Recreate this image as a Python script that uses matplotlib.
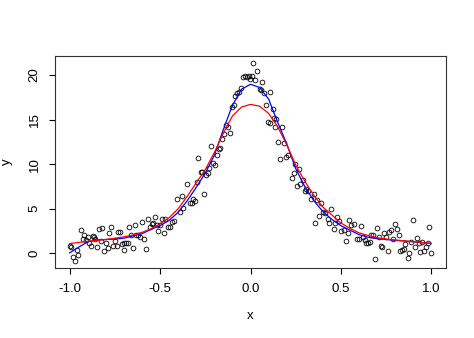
import matplotlib
matplotlib.use("Agg")
import matplotlib.pyplot as plt

plt.rcParams['font.family'] = ['Liberation Sans', 'DejaVu Sans']

# scatter points
x_pts = [-0.999, -0.993, -0.981, -0.971, -0.960, -0.953, -0.940, -0.929, -0.920, -0.910,
         -0.901, -0.892, -0.883, -0.873, -0.864, -0.860, -0.849, -0.840, -0.827, -0.820,
         -0.809, -0.801, -0.790, -0.781, -0.772, -0.759, -0.750, -0.738, -0.731, -0.722,
         -0.712, -0.701, -0.698, -0.687, -0.679, -0.672, -0.661, -0.648, -0.639, -0.632,
         -0.620, -0.609, -0.598, -0.587, -0.580, -0.568, -0.556, -0.546, -0.537, -0.528,
         -0.519, -0.510, -0.499, -0.491, -0.480, -0.473, -0.454, -0.445, -0.435, -0.421,
         -0.408, -0.389, -0.380, -0.371,
         -0.349, -0.334, -0.325, -0.316, -0.306, -0.295, -0.288, -0.273, -0.266, -0.255,
         -0.245, -0.236, -0.227, -0.218, -0.205, -0.196, -0.186, -0.177, -0.168, -0.158,
         -0.149, -0.136, -0.127, -0.116, -0.103, -0.094, -0.085, -0.075, -0.066, -0.055,
         -0.039, -0.029, -0.020, -0.011, -0.003, 0.008, 0.015, 0.026, 0.037, 0.050,
         0.059, 0.066, 0.076, 0.085, 0.096, 0.109, 0.109, 0.122, 0.130, 0.141,
         0.137, 0.152, 0.165,
         0.177, 0.187, 0.196, 0.207, 0.238, 0.229, 0.248, 0.257, 0.266, 0.275,
         0.288, 0.299, 0.307, 0.318, 0.336, 0.349, 0.358, 0.368, 0.377, 0.388,
         0.399, 0.410, 0.429, 0.436, 0.447, 0.460, 0.469, 0.479, 0.488, 0.502,
         0.515, 0.529, 0.540, 0.547, 0.558, 0.571, 0.589, 0.598, 0.609, 0.620,
         0.632, 0.639, 0.650, 0.662, 0.669, 0.680, 0.687, 0.700, 0.709, 0.720,
         0.728, 0.739, 0.750, 0.759, 0.768, 0.779, 0.787, 0.798, 0.809, 0.820,
         0.829, 0.839, 0.848, 0.857, 0.870, 0.879, 0.890, 0.900, 0.909, 0.920,
         0.931, 0.940, 0.950, 0.961, 0.972, 0.983, 0.990, 1.001]
y_pts = [0.82, 0.74, -0.45, -0.83, 0.37, -0.23, 2.61, 1.64, 2.05, 1.49,
         1.79, 1.19, 0.82, 1.94, 1.79, 1.57, 0.74, 2.76, 1.38, 2.80,
         0.22, 1.12, 0.59, 2.24, 2.91, 0.82, 1.34, 0.82, 2.42, 2.42,
         1.04, 1.12, 0.37, 1.12, 1.12, 2.91, 2.05, 0.59, 3.14, 2.01,
         2.01, 1.79, 3.54, 1.57, 0.45, 3.81, 2.99, 3.28, 3.43, 4.10,
         3.14, 2.54, 3.14, 3.81, 2.31, 3.89, 2.99, 2.99, 3.54, 3.58,
         6.05, 4.66, 6.43, 5.04,
         7.73, 5.61, 5.67, 6.05, 5.90, 8.03, 10.65, 9.11, 9.11, 6.65,
         8.78, 8.97, 9.53, 12.03, 10.09, 9.87, 11.02, 11.66, 11.77, 12.78,
         13.37, 14.38, 14.13, 13.52, 16.43, 16.63, 17.63, 17.94, 18.12, 18.50,
         19.80, 19.88, 19.80, 19.88, 19.51, 19.88, 21.37, 19.43, 20.47, 18.39,
         18.31, 19.24, 18.00, 16.59, 14.75, 14.64, 18.12, 16.14, 15.13, 15.02,
         14.13, 12.51, 10.54,
         14.13, 12.40, 10.83, 11.02, 8.97, 8.41, 10.01, 7.54, 9.42, 7.77,
         8.22, 7.02, 7.17, 7.02, 6.05, 6.65, 3.36, 5.98, 4.18, 5.61,
         4.66, 4.48, 3.81, 3.43, 4.93, 2.69, 3.43, 4.04, 3.65, 2.53,
         2.61, 1.41, 2.31, 3.73, 3.17, 3.28, 1.57, 1.57, 3.06, 1.86,
         1.49, 1.19, 1.19, 1.27, 2.05, 2.05, -0.67, 2.80, 1.79, 0.82,
         0.74, 2.31, 1.79, 0.29, 2.42, 2.61, 1.64, 3.28, 2.76, 2.02,
         0.29, 0.37, 0.45, 1.04, -0.49, 0.00, 1.30, 3.73, 0.67, 1.68,
         1.19, 0.18, 1.30, 0.29, 0.67, 1.19, 2.91, 0.00]

# fitted curves
x_fit = [-1.0, -0.95, -0.9, -0.85, -0.8, -0.75, -0.7, -0.65, -0.6, -0.55,
         -0.5, -0.45, -0.4, -0.35, -0.3, -0.25, -0.2, -0.15, -0.1, -0.05,
         0.0, 0.05, 0.1, 0.15, 0.2, 0.25, 0.3, 0.35, 0.4, 0.45,
         0.5, 0.55, 0.6, 0.65, 0.7, 0.75, 0.8, 0.85, 0.9, 0.95, 1.0]
y_blue = [0.05, 0.7, 1.3, 1.5, 1.55, 1.6, 1.7, 1.95, 2.2, 2.7,
          3.1, 3.7, 4.6, 5.9, 7.4, 9.0, 11.0, 13.9, 16.6, 18.4,
          18.95, 18.6, 17.3, 14.7, 12.3, 9.5, 7.5, 5.9, 4.7, 3.8,
          3.1, 2.6, 2.1, 1.8, 1.65, 1.55, 1.45, 1.38, 1.3, 1.2, 1.1]
y_red = [1.1, 1.22, 1.35, 1.45, 1.55, 1.7, 1.85, 2.05, 2.35, 2.75,
         3.3, 4.0, 5.0, 6.4, 7.9, 9.4, 11.3, 13.5, 15.4, 16.4,
         16.7, 16.5, 15.7, 14.2, 12.2, 9.9, 8.1, 6.5, 5.2, 4.3,
         3.4, 2.8, 2.3, 2.0, 1.75, 1.6, 1.5, 1.4, 1.3, 1.2, 1.1]

fig = plt.figure(figsize=(4.74, 3.38), dpi=100)
ax = fig.add_axes([0.1167, 0.207, 0.8236, 0.628])

ax.plot(x_pts, y_pts, 'o', mfc='none', mec='black', ms=3.4, mew=0.6)
ax.plot(x_fit, y_blue, color='blue', lw=0.9)
ax.plot(x_fit, y_red, color='red', lw=0.9)

ax.set_xlim(-1.08, 1.08)
ax.set_ylim(-1.65, 22.15)
ax.set_xticks([-1.0, -0.5, 0.0, 0.5, 1.0])
ax.set_xticklabels(['-1.0', '-0.5', '0.0', '0.5', '1.0'])
ax.set_yticks([0, 5, 10, 15, 20])
ax.tick_params(direction='out', length=4.5, width=0.8, labelsize=9.5, pad=6)
for lab in ax.get_yticklabels():
    lab.set_rotation(90)
    lab.set_va('center')
for s in ax.spines.values():
    s.set_linewidth(0.8)
    s.set_color('#333333')

ax.set_xlabel('x', fontsize=9.5, labelpad=11)
ax.set_ylabel('y', fontsize=9.5, labelpad=11)

fig.savefig('out.png', dpi=100)
